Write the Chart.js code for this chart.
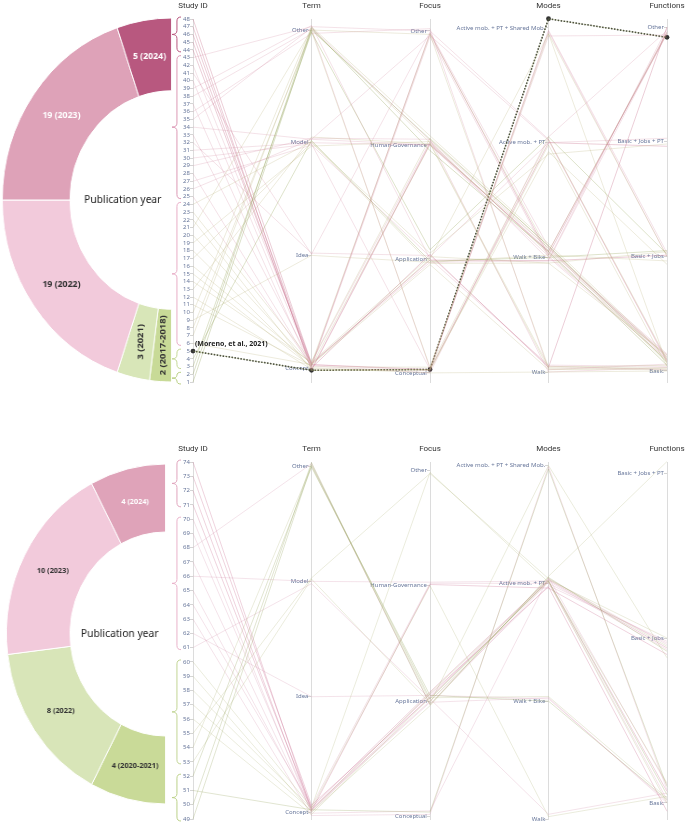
<!DOCTYPE html>
<html>
<head>
<meta charset="utf-8">
<script src="https://cdn.jsdelivr.net/npm/chart.js@4.4.1/dist/chart.umd.min.js"></script>
<style>
    html, body { margin: 0; padding: 0; background: #fff; }
    body { width: 685px; height: 826px; position: relative; overflow: hidden; }
    .box { position: absolute; }
    .donut { transform-origin: 100% 50%; }
</style>
</head>
<body>
<div class="box donut" style="left:-11px;top:17px;width:183px;height:366px;transform:scaleX(0.93)"><canvas id="donutTop"></canvas></div>
<div class="box" style="left:0;top:0;width:685px;height:400px"><canvas id="parTop"></canvas></div>
<div class="box donut" style="left:-5px;top:463px;width:171px;height:342px;transform:scaleX(0.936)"><canvas id="donutBottom"></canvas></div>
<div class="box" style="left:0;top:420px;width:685px;height:406px"><canvas id="parBottom"></canvas></div>

<script>
/**
 * ==============================
 * DATA
 * ==============================
 */
// publication year groups (bottom of the half donut first)
const topYears = ["2017-2018", "2021", "2022", "2023", "2024"];
const topCounts = [2, 3, 19, 19, 5];
const bottomYears = ["2020-2021", "2022", "2023", "2024"];
const bottomCounts = [4, 8, 10, 4];

// category ticks, lowest first
const termCats = ["Concept", "Idea", "Model", "Other"];
const focusCats = ["Conceptual", "Application", "Human-Governance", "Other"];
const modeCats = ["Walk", "Walk + Bike", "Active mob. + PT", "Active mob. + PT + Shared Mob."];
const funcCatsTop = ["Basic", "Basic + Jobs", "Basic + Jobs + PT", "Other"];
const funcCatsBottom = ["Basic", "Basic + Jobs", "Basic + Jobs + PT"];

// studies 1..48 (category index, decimals = spread around the category)
const topTerm = [3.00, 3.02, 2.98, 2.02, -0.02, 0.03, 3.01, 2.99, 1.00, 3.03,
    0.02, -0.01, 2.05, 0.05, 0.01, 0.04, 2.00, 0.00, 1.97, 0.03,
    3.00, -0.02, 0.06, 2.01, 0.02, 2.03, 1.98, 0.01, 2.04, 1.99,
    2.00, 1.02, 0.04, 2.03, 3.02, 2.97, -0.01, 3.01, 3.04, 0.03,
    1.01, 0.05, 3.03, 0.02, 0.00, 0.03, -0.02, 0.04];
const topFocus = [2.05, 1.95, 1.08, 0.98, 0.03, 0.95, 2.02, 0.05, 0.97, 2.08,
    2.00, 0.03, 2.01, 1.02, 0.05, 2.97, 1.05, 0.00, 2.03, 1.00,
    2.97, 0.02, 2.06, 0.96, 0.00, 2.00, 1.02, 2.95, 2.05, 0.03,
    2.00, 1.03, 0.97, 2.96, 2.04, 3.02, 2.02, 0.04, 1.00, 0.02,
    2.99, 2.03, 3.00, 2.98, 1.04, 0.03, 2.01, 0.99];
const topModes = [1.10, 1.05, 2.05, 1.00, 3.08, 0.02, 0.05, 2.03, 1.02, 1.12,
    1.08, 1.92, 0.03, 0.95, 2.95, 1.05, 1.90, 0.00, 1.03, 2.95,
    0.04, 1.98, 1.10, 0.95, 2.05, 1.01, 2.00, 1.00, 0.00, 2.97,
    1.06, 0.05, 0.97, 2.02, 1.08, 0.02, 1.04, 2.93, 0.06, 2.98,
    1.09, 0.98, 2.03, 1.02, 0.04, 2.00, 1.05, 0.97];
const topFunc = [0.08, 0.05, 1.02, 1.05, 2.91, 0.03, 0.02, 0.10, 0.96, 0.12,
    0.07, 0.93, 0.01, 0.14, 0.06, 2.95, 1.98, 0.00, 0.09, 1.00,
    0.05, 0.04, 0.11, 1.04, 2.97, 0.13, 2.03, 0.10, 0.03, 1.00,
    0.15, 0.01, 2.95, 0.09, 0.12, 0.06, 0.14, 2.93, 0.04, 1.03,
    0.10, 2.99, 0.08, 2.96, 3.00, 1.96, 2.94, 1.01];

// studies 49..74
const bottomTerm = [3.01, 3.03, 0.02, 2.99, 2.02, 3.00, 2.03, -0.02, 0.01, 0.03,
    0.00, 0.04, 1.98, 1.00, -0.03, 0.05, 0.02, 2.00, 0.00, 3.02,
    0.03, -0.01, 0.04, 0.01, 0.06, 0.02];
const bottomFocus = [1.02, 0.97, 0.04, 1.05, 0.98, 1.00, 2.97, 1.03, 1.07, 2.00,
    0.96, 2.98, 1.02, 1.05, 0.02, 2.02, 0.99, 2.03, 1.04, 0.97,
    1.00, 0.05, 1.08, 2.01, 1.03, 1.06];
const bottomModes = [2.02, 2.05, 2.97, 1.00, 3.00, 2.03, 2.04, 1.04, 2.02, 0.02,
    2.06, 2.01, 0.04, 1.02, 2.99, 2.00, 1.03, 2.02, 2.04, 2.01,
    1.98, 2.05, 2.03, 1.96, 2.02, 1.97];
const bottomFunc = [0.05, 0.92, 0.10, 0.02, 0.88, 1.00, 0.95, 0.03, 0.12, 0.04,
    2.07, 0.00, 0.06, 0.01, 0.08, 0.97, 0.00, 0.93, 0.96, 0.02,
    0.98, 0.11, 0.94, 0.90, 0.07, -0.05];

// highlighted study
const highlightId = 5;
const highlightLabel = "(Moreno, et al., 2021)";

const axisTitles = ["Study ID", "Term", "Focus", "Modes", "Functions"];

/**
 * ==============================
 * HALF DONUT
 * ==============================
 */
const donutLabels = {
    id: "donutLabels",
    afterDatasetsDraw(chart, args, opts) {
        const { ctx } = chart;
        const arcs = chart.getDatasetMeta(0).data;
        const years = chart.data.labels;
        const counts = chart.data.datasets[0].data;
        ctx.save();
        ctx.textAlign = "center";
        ctx.textBaseline = "middle";
        arcs.forEach((arc, i) => {
            const p = arc.tooltipPosition();
            ctx.save();
            ctx.translate(p.x, p.y);
            if (opts.rotated[i]) ctx.rotate(-Math.PI / 2);
            ctx.font = `bold ${opts.size}px "Noto Sans"`;
            ctx.fillStyle = opts.textColors[i];
            ctx.fillText(`${counts[i]} (${years[i]})`, 0, 0);
            ctx.restore();
        });
        const a = arcs[0];
        ctx.font = '11px "Noto Sans"';
        ctx.fillStyle = "#222";
        ctx.fillText("Publication year", a.x - a.innerRadius * 0.48, a.y);
        ctx.restore();
    },
};

function halfDonut(id, years, counts, colors, textColors, rotated, size) {
    return new Chart(document.getElementById(id), {
        type: "doughnut",
        data: {
            labels: years,
            datasets: [{ data: counts, backgroundColor: colors, borderColor: "#fff", borderWidth: 1, hoverOffset: 0 }],
        },
        options: {
            responsive: true,
            maintainAspectRatio: false,
            rotation: 180,
            circumference: 180,
            cutout: "60%",
            animation: false,
            events: [],
            plugins: {
                legend: { display: false },
                tooltip: { enabled: false },
                donutLabels: { textColors, rotated, size },
            },
        },
        plugins: [donutLabels],
    });
}

/**
 * ==============================
 * PARALLEL COORDINATES
 * ==============================
 */
function drawBrace(ctx, x, y1, y2, w) {
    const ym = (y1 + y2) / 2;
    const xb = x - w * 0.45;
    const xt = x - w;
    const c = Math.min(4, (y2 - y1) / 4);
    ctx.beginPath();
    ctx.moveTo(x, y1);
    ctx.quadraticCurveTo(xb, y1, xb, y1 + c);
    ctx.lineTo(xb, ym - c);
    ctx.quadraticCurveTo(xb, ym, xt, ym);
    ctx.quadraticCurveTo(xb, ym, xb, ym + c);
    ctx.lineTo(xb, y2 - c);
    ctx.quadraticCurveTo(xb, y2, x, y2);
    ctx.stroke();
}

const parallelDecor = {
    id: "parallelDecor",
    afterDraw(chart, args, opts) {
        const { ctx, chartArea } = chart;
        const xs = chart.scales.x;
        const sid = chart.scales.sid;
        ctx.save();
        // axis titles
        ctx.font = '8px Roboto';
        ctx.fillStyle = "#333";
        ctx.textAlign = "center";
        ctx.textBaseline = "middle";
        axisTitles.forEach((t, k) => ctx.fillText(t, xs.getPixelForValue(k), chartArea.top - 13));
        // year braces next to the Study ID ticks
        const x0 = xs.getPixelForValue(0);
        let from = opts.idStart;
        opts.counts.forEach((c, g) => {
            const to = from + c - 1;
            ctx.strokeStyle = opts.braceColors[g];
            ctx.lineWidth = 1;
            drawBrace(ctx, x0 - 12, sid.getPixelForValue(to) - 2, sid.getPixelForValue(from) + 2, 9);
            from = to + 1;
        });
        // highlighted study label
        if (opts.highlightLabel) {
            const metas = chart.getSortedVisibleDatasetMetas();
            const pt = metas[metas.length - 1].data[0];
            ctx.font = 'bold 7px "Noto Sans"';
            ctx.fillStyle = "#222";
            ctx.textAlign = "left";
            ctx.fillText(opts.highlightLabel, pt.x + 2, pt.y - 7);
        }
        ctx.restore();
    },
};

function catAxis(k, cats, range, tickColor) {
    return {
        type: "linear",
        axis: "y",
        position: { x: k },
        min: range[0],
        max: range[1],
        ticks: {
            stepSize: 1,
            includeBounds: false,
            autoSkip: false,
            color: tickColor,
            font: { size: 6, family: '"Noto Sans"' },
            callback: (v) => (Number.isInteger(v) && cats[v] !== undefined ? cats[v] + "  " : ""),
        },
        grid: { drawOnChartArea: false, tickLength: 3, color: "#d5d5d5" },
        border: { display: true, color: "#dcdcdc", width: 1 },
    };
}

function parallelChart(id, o) {
    const first = o.idStart;
    const last = first + o.term.length - 1;
    const groupOf = [];
    o.counts.forEach((c, g) => {
        for (let k = 0; k < c; k++) groupOf.push(g);
    });
    const axes = [
        { vals: o.term, range: o.ranges[0] },
        { vals: o.focus, range: o.ranges[1] },
        { vals: o.modes, range: o.ranges[2] },
        { vals: o.func, range: o.ranges[3] },
    ];
    const norm = (v, r) => (v - r[0]) / (r[1] - r[0]);
    const pointsOf = (i) => {
        const pts = [{ x: 0, y: norm(first + i, [first, last]) }];
        axes.forEach((a, k) => pts.push({ x: k + 1, y: norm(a.vals[i], a.range) }));
        return pts;
    };
    const datasets = o.term.map((_, i) => ({
        data: pointsOf(i),
        borderColor: o.lineColors[groupOf[i]],
        borderWidth: 0.7,
        pointRadius: 0,
        tension: 0,
        fill: false,
        clip: false,
    }));
    if (o.highlight) {
        datasets.push({
            data: pointsOf(o.highlight - first),
            borderColor: "#333",
            borderWidth: 1.5,
            borderDash: [1.5, 1.5],
            pointRadius: 2.4,
            pointBorderWidth: 0,
            pointBackgroundColor: "#333",
            tension: 0,
            fill: false,
            clip: false,
        });
    }
    const tickColor = "#67769a";
    return new Chart(document.getElementById(id), {
        type: "line",
        data: { datasets },
        options: {
            responsive: true,
            maintainAspectRatio: false,
            animation: false,
            events: [],
            parsing: false,
            layout: { padding: o.padding },
            scales: {
                x: { type: "linear", min: 0, max: 4, display: false },
                y: { type: "linear", min: 0, max: 1, display: false },
                sid: {
                    type: "linear",
                    axis: "y",
                    position: { x: 0 },
                    min: first,
                    max: last,
                    ticks: {
                        stepSize: 1,
                        autoSkip: false,
                        color: tickColor,
                        font: { size: 6, family: '"Noto Sans"' },
                        callback: (v) => v + "  ",
                    },
                    grid: { drawOnChartArea: false, tickLength: 3, color: "#d5d5d5" },
                    border: { display: true, color: "#dcdcdc", width: 1 },
                },
                term: catAxis(1, termCats, o.ranges[0], tickColor),
                focus: catAxis(2, focusCats, o.ranges[1], tickColor),
                modes: catAxis(3, modeCats, o.ranges[2], tickColor),
                func: catAxis(4, o.funcCats, o.ranges[3], tickColor),
            },
            plugins: {
                legend: { display: false },
                tooltip: { enabled: false },
                parallelDecor: {
                    idStart: first,
                    counts: o.counts,
                    braceColors: o.braceColors,
                    highlightLabel: o.highlightLabel,
                },
            },
        },
        plugins: [parallelDecor],
    });
}

/**
 * ==============================
 * BUILD
 * ==============================
 */
halfDonut("donutTop", topYears, topCounts,
    ["#c8da97", "#d8e6b8", "#f2cadb", "#dea2b8", "#b8587f"],
    ["#333", "#333", "#333", "#fff", "#fff"],
    [true, true, false, false, false], 9.4);

halfDonut("donutBottom", bottomYears, bottomCounts,
    ["#c9da98", "#d8e5b8", "#f2cadb", "#dfa3b9"],
    ["#333", "#333", "#333", "#fff"],
    [false, false, false, false], 7.8);

parallelChart("parTop", {
    idStart: 1,
    counts: topCounts,
    term: topTerm, focus: topFocus, modes: topModes, func: topFunc,
    funcCats: funcCatsTop,
    ranges: [[-0.124, 3.098], [-0.08, 3.105], [-0.087, 3.078], [-0.096, 3.07]],
    lineColors: ["rgba(140,155,80,0.45)", "rgba(150,165,90,0.45)", "rgba(185,180,125,0.38)",
        "rgba(210,135,160,0.35)", "rgba(190,85,120,0.42)"],
    braceColors: ["#b9cf83", "#c4d795", "#e8aec7", "#dc98b5", "#b8587f"],
    highlight: highlightId,
    highlightLabel,
    padding: { left: 193, right: 18, top: 19, bottom: 18 },
});

parallelChart("parBottom", {
    idStart: 49,
    counts: bottomCounts,
    term: bottomTerm, focus: bottomFocus, modes: bottomModes, func: bottomFunc,
    funcCats: funcCatsBottom,
    ranges: [[-0.06, 3.035], [-0.02, 3.07], [0, 3.03], [-0.097, 2.067]],
    lineColors: ["rgba(150,165,95,0.42)", "rgba(180,182,125,0.38)", "rgba(215,150,175,0.38)",
        "rgba(200,105,140,0.42)"],
    braceColors: ["#bcd189", "#c2d595", "#e9b2ca", "#e0a5bd"],
    padding: { left: 193, right: 18, top: 42, bottom: 7 },
});
</script>
</body>
</html>
